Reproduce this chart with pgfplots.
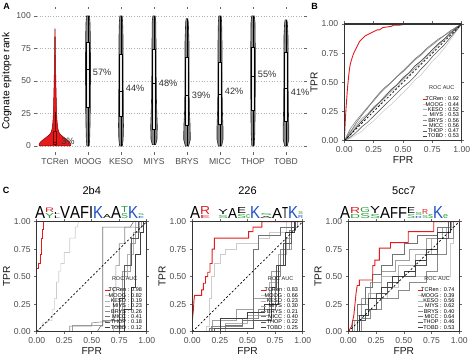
\documentclass[border=0pt]{standalone}
\usepackage{fontspec}
\setmainfont{Liberation Sans}
\usepackage{pgfplots}
\pgfplotsset{compat=1.18}
\usepgfplotslibrary{statistics}
\definecolor{tcr}{RGB}{228,26,28}
\definecolor{axg}{RGB}{77,77,77}
\definecolor{lgr}{RGB}{40,160,60}
\definecolor{lbl}{RGB}{30,80,200}
\definecolor{lrd}{RGB}{220,30,40}
\colorlet{g1}{black!20}
\colorlet{g2}{black!30}
\colorlet{g3}{black!38}
\colorlet{g4}{black!46}
\colorlet{g5}{black!55}
\colorlet{g6}{black!65}
\colorlet{g7}{black!75}
\newcommand\tickf{\fontsize{8.6}{9}\selectfont}
\newcommand\labf{\fontsize{10.2}{11}\selectfont}
\newcommand\legf{\fontsize{5.5}{6}\selectfont}
\newcommand\pctf{\fontsize{9.2}{10}\selectfont}
\newcommand{\lt}[4]{\textcolor{#1}{\resizebox{#3pt}{#4pt}{#2}}}
\newcommand{\stk}[7]{\makebox[#1pt][l]{\lt{#5}{#6}{#1}{#7}\llap{\raisebox{\dimexpr #7pt+1pt\relax}{\lt{#2}{#3}{#1}{#4}}}}}
\newcommand\lgn[2]{\makebox[15.5pt][r]{#1} : #2}
\newcommand{\rocleg}[8]{%
\addlegendimage{tcr,line width=0.9pt}\addlegendentry{\lgn{TCRen}{#1}}
\addlegendimage{g1,line width=0.9pt}\addlegendentry{\lgn{MOOG}{#2}}
\addlegendimage{g2,line width=0.9pt}\addlegendentry{\lgn{KESO}{#3}}
\addlegendimage{g3,line width=0.9pt}\addlegendentry{\lgn{MIYS}{#4}}
\addlegendimage{g4,line width=0.9pt}\addlegendentry{\lgn{BRYS}{#5}}
\addlegendimage{g5,line width=0.9pt}\addlegendentry{\lgn{MICC}{#6}}
\addlegendimage{g6,line width=0.9pt}\addlegendentry{\lgn{THOP}{#7}}
\addlegendimage{g7,line width=0.9pt}\addlegendentry{\lgn{TOBD}{#8}}}
\pgfplotsset{
 /pgf/number format/assume math mode=true,
 myroc/.style={
  scale only axis, height=110pt, xmin=0,xmax=1,ymin=0,ymax=1,
  xtick={0,0.25,0.5,0.75,1}, ytick={0,0.25,0.5,0.75,1},
  xticklabels={0.00,0.25,0.50,0.75,1.00}, yticklabels={0.00,0.25,0.50,0.75,1.00},
  axis on top, axis line style={draw=black!80, line width=1.2pt},
  tick align=outside, major tick length=2.5pt, tick style={draw=black!60, line width=0.5pt},
  ticklabel style={font=\tickf, text=axg},
  xlabel=FPR, ylabel=TPR, label style={font=\labf, text=black!90},
  xlabel style={yshift=3pt}, ylabel style={yshift=-3pt},
  legend style={at={(rel axis cs:0.96,0.012)}, anchor=south east, draw=none, fill=none,
    font=\legf, inner sep=0pt, row sep=0pt,
    nodes={inner sep=0.2pt, text height=4pt, text depth=0.9pt},
    /tikz/every even column/.append style={column sep=0.8pt}},
  legend cell align=left,
  legend image code/.code={\draw[##1] (0pt,0pt) -- (4.5pt,0pt);},
 },
 gl/.style={line width=0.6pt, forget plot},
 diag/.style={black, line width=0.7pt, dash pattern=on 2pt off 2pt, forget plot},
 red/.style={tcr, line width=0.9pt, forget plot},
}
\begin{document}
\begin{tikzpicture}
\path[use as bounding box] (0,0) rectangle (474pt,363pt);
% panel labels
\node[font=\bfseries\fontsize{9}{10}\selectfont] at (6.5pt,356.5pt) {A};
\node[font=\bfseries\fontsize{9}{10}\selectfont] at (314.5pt,356.5pt) {B};
\node[font=\bfseries\fontsize{9}{10}\selectfont] at (6pt,173pt) {C};
% ---------------- Panel A
\begin{axis}[at={(36.85pt,210.5pt)}, anchor=south west, scale only axis,
 width=267.3pt, height=143pt,
 xmin=0.45, xmax=8.55, ymin=-5, ymax=105,
 xtick={1,2,3,4,5,6,7,8}, xticklabels={TCRen,MOOG,KESO,MIYS,BRYS,MICC,THOP,TOBD},
 ytick={0,25,50,75,100}, yticklabels={0,25,50,75,100},
 ymajorgrids, grid style={black!30, line width=0.7pt, dash pattern=on 0.7pt off 2pt},
 axis line style={draw=none}, tick align=outside, major tick length=2.5pt,
 tick style={draw=black!60, line width=0.5pt},
 ticklabel style={font=\tickf, text=axg},
 ylabel={Cognate epitope rank}, ylabel style={font=\labf, yshift=-2pt},
 boxplot/draw direction=y, clip=false]
% violins
\addplot[fill=tcr, draw=red!55!black, line width=0.5pt] coordinates {(0.53,0)(0.52,1)(0.53,2)(0.56,3)(0.60,4)(0.65,5)(0.70,6)(0.75,7)(0.80,8)(0.84,9)(0.87,10)(0.90,12)(0.915,14)(0.93,17)(0.94,20)(0.95,25)(0.955,30)(0.96,35)(0.965,40)(0.97,45)(0.975,50)(0.98,60)(0.985,70)(0.99,80)(0.996,90)(1.004,90)(1.01,80)(1.015,70)(1.02,60)(1.025,50)(1.03,45)(1.035,40)(1.04,35)(1.045,30)(1.05,25)(1.06,20)(1.07,17)(1.085,14)(1.10,12)(1.13,10)(1.16,9)(1.20,8)(1.25,7)(1.30,6)(1.35,5)(1.40,4)(1.44,3)(1.47,2)(1.48,1)(1.47,0)} -- cycle;
\addplot[fill=black!50, draw=black!85, line width=0.6pt] coordinates {(1.965,0)(1.95,5)(1.94,15)(1.93,30)(1.925,50)(1.925,70)(1.93,85)(1.94,95)(1.955,100)(2.045,100)(2.06,95)(2.07,85)(2.075,70)(2.075,50)(2.07,30)(2.06,15)(2.05,5)(2.035,0)} -- cycle;
\addplot[fill=black!50, draw=black!85, line width=0.6pt] coordinates {(2.96,0)(2.935,5)(2.925,15)(2.93,30)(2.935,50)(2.94,70)(2.94,85)(2.95,95)(2.965,100)(3.035,100)(3.05,95)(3.06,85)(3.06,70)(3.065,50)(3.07,30)(3.075,15)(3.065,5)(3.04,0)} -- cycle;
\addplot[fill=black!50, draw=black!85, line width=0.6pt] coordinates {(3.95,1)(3.91,5)(3.90,15)(3.915,25)(3.93,40)(3.935,60)(3.94,80)(3.945,95)(3.965,100)(4.035,100)(4.055,95)(4.06,80)(4.065,60)(4.07,40)(4.085,25)(4.10,15)(4.09,5)(4.05,1)} -- cycle;
\addplot[fill=black!50, draw=black!85, line width=0.6pt] coordinates {(4.95,0)(4.90,5)(4.905,15)(4.925,25)(4.935,40)(4.94,60)(4.94,80)(4.96,95)(4.975,98)(5.025,98)(5.04,95)(5.06,80)(5.06,60)(5.065,40)(5.075,25)(5.095,15)(5.10,5)(5.05,0)} -- cycle;
\addplot[fill=black!50, draw=black!85, line width=0.6pt] coordinates {(5.95,0)(5.91,5)(5.91,15)(5.925,25)(5.935,40)(5.94,60)(5.94,80)(5.95,95)(5.965,100)(6.035,100)(6.05,95)(6.06,80)(6.06,60)(6.065,40)(6.075,25)(6.09,15)(6.09,5)(6.05,0)} -- cycle;
\addplot[fill=black!50, draw=black!85, line width=0.6pt] coordinates {(6.965,0)(6.945,10)(6.935,30)(6.93,50)(6.93,70)(6.935,85)(6.94,95)(6.96,100)(7.04,100)(7.06,95)(7.065,85)(7.07,70)(7.07,50)(7.065,30)(7.055,10)(7.035,0)} -- cycle;
\addplot[fill=black!50, draw=black!85, line width=0.6pt] coordinates {(7.96,0)(7.915,5)(7.915,15)(7.93,30)(7.935,50)(7.935,70)(7.94,85)(7.96,95)(7.975,97)(8.025,97)(8.04,95)(8.06,85)(8.065,70)(8.065,50)(8.07,30)(8.085,15)(8.085,5)(8.04,0)} -- cycle;
% boxes
\pgfplotsset{bx/.style={fill=black!8, draw=black, line width=0.6pt, boxplot/every median/.style={line width=1.1pt}}}
\addplot[bx, boxplot prepared={draw position=1, lower whisker=0, lower quartile=1.5, median=3, upper quartile=11, upper whisker=26, box extend=0.1, whisker extend=0}, fill=tcr, draw=red!40!black] coordinates {};
\addplot[bx, boxplot prepared={draw position=2, lower whisker=0, lower quartile=30, median=59, upper quartile=80, upper whisker=100, box extend=0.1, whisker extend=0}] coordinates {};
\addplot[bx, boxplot prepared={draw position=3, lower whisker=0, lower quartile=23, median=41.6, upper quartile=70.4, upper whisker=100, box extend=0.1, whisker extend=0}] coordinates {};
\addplot[bx, boxplot prepared={draw position=4, lower whisker=1, lower quartile=12.6, median=48, upper quartile=74.5, upper whisker=100, box extend=0.1, whisker extend=0}] coordinates {};
\addplot[bx, boxplot prepared={draw position=5, lower whisker=0, lower quartile=16, median=38.5, upper quartile=68, upper whisker=98, box extend=0.1, whisker extend=0}] coordinates {};
\addplot[bx, boxplot prepared={draw position=6, lower whisker=0, lower quartile=17, median=39.6, upper quartile=64.3, upper whisker=100, box extend=0.1, whisker extend=0}] coordinates {};
\addplot[bx, boxplot prepared={draw position=7, lower whisker=0, lower quartile=27.5, median=53.7, upper quartile=75.6, upper whisker=100, box extend=0.1, whisker extend=0}] coordinates {};
\addplot[bx, boxplot prepared={draw position=8, lower whisker=0, lower quartile=19, median=44, upper quartile=71.7, upper whisker=97, box extend=0.1, whisker extend=0}] coordinates {};
\begin{scope}[every node/.style={anchor=west, font=\pctf, text=black!80, inner sep=0.5pt}]
\node at (axis cs:1.17,3.5) {3\%};
\node at (axis cs:2.13,57) {57\%};
\node at (axis cs:3.13,44) {44\%};
\node at (axis cs:4.13,48) {48\%};
\node at (axis cs:5.13,39) {39\%};
\node at (axis cs:6.13,42) {42\%};
\node at (axis cs:7.13,55) {55\%};
\node at (axis cs:8.13,41) {41\%};
\end{scope}
\end{axis}
% ---------------- Panel B
\begin{axis}[myroc, at={(344.3pt,222.3pt)}, anchor=south west, width=117.4pt, height=116.7pt,
 legend style={at={(rel axis cs:0.98,0.012)}}]
\rocleg{0.92}{0.44}{0.52}{0.53}{0.56}{0.56}{0.47}{0.53}
\addplot[gl,g1] coordinates {(0,0)(0.05,0.02)(0.1,0.05)(0.15,0.08)(0.2,0.13)(0.25,0.17)(0.3,0.22)(0.35,0.27)(0.4,0.31)(0.45,0.36)(0.5,0.41)(0.55,0.46)(0.6,0.52)(0.65,0.56)(0.7,0.62)(0.75,0.68)(0.8,0.73)(0.85,0.79)(0.9,0.86)(0.95,0.93)(1,1)};
\addplot[gl,g2] coordinates {(0,0)(0.05,0.06)(0.1,0.12)(0.15,0.16)(0.2,0.22)(0.25,0.27)(0.3,0.31)(0.35,0.37)(0.4,0.42)(0.45,0.46)(0.5,0.52)(0.55,0.56)(0.6,0.62)(0.65,0.66)(0.7,0.72)(0.75,0.76)(0.8,0.82)(0.85,0.86)(0.9,0.91)(0.95,0.96)(1,1)};
\addplot[gl,g3] coordinates {(0,0)(0.05,0.08)(0.1,0.13)(0.15,0.19)(0.2,0.23)(0.25,0.29)(0.3,0.33)(0.35,0.39)(0.4,0.43)(0.45,0.48)(0.5,0.53)(0.55,0.58)(0.6,0.62)(0.65,0.68)(0.7,0.72)(0.75,0.78)(0.8,0.82)(0.85,0.87)(0.9,0.91)(0.95,0.96)(1,1)};
\addplot[gl,g4] coordinates {(0,0)(0.05,0.1)(0.1,0.17)(0.15,0.23)(0.2,0.29)(0.25,0.34)(0.3,0.4)(0.35,0.45)(0.4,0.5)(0.45,0.55)(0.5,0.59)(0.55,0.64)(0.6,0.69)(0.65,0.73)(0.7,0.78)(0.75,0.82)(0.8,0.86)(0.85,0.9)(0.9,0.93)(0.95,0.97)(1,1)};
\addplot[gl,g5] coordinates {(0,0)(0.05,0.07)(0.1,0.15)(0.15,0.22)(0.2,0.28)(0.25,0.35)(0.3,0.41)(0.35,0.46)(0.4,0.5)(0.45,0.55)(0.5,0.6)(0.55,0.65)(0.6,0.7)(0.65,0.74)(0.7,0.79)(0.75,0.83)(0.8,0.87)(0.85,0.9)(0.9,0.94)(0.95,0.97)(1,1)};
\addplot[gl,g6] coordinates {(0,0)(0.05,0.03)(0.1,0.07)(0.15,0.12)(0.2,0.16)(0.25,0.21)(0.3,0.26)(0.35,0.31)(0.4,0.36)(0.45,0.41)(0.5,0.46)(0.55,0.5)(0.6,0.55)(0.65,0.61)(0.7,0.66)(0.75,0.72)(0.8,0.77)(0.85,0.82)(0.9,0.88)(0.95,0.94)(1,1)};
\addplot[gl,g7] coordinates {(0,0)(0.05,0.05)(0.1,0.11)(0.15,0.17)(0.2,0.22)(0.25,0.28)(0.3,0.33)(0.35,0.38)(0.4,0.44)(0.45,0.48)(0.5,0.54)(0.55,0.58)(0.6,0.64)(0.65,0.68)(0.7,0.73)(0.75,0.78)(0.8,0.83)(0.85,0.87)(0.9,0.92)(0.95,0.96)(1,1)};
\addplot[diag] coordinates {(0,0)(1,1)};
\addplot[red] coordinates {(0,0)(0.005,0.1)(0.01,0.2)(0.015,0.28)(0.02,0.35)(0.025,0.42)(0.03,0.48)(0.035,0.53)(0.04,0.58)(0.045,0.62)(0.05,0.65)(0.06,0.69)(0.07,0.72)(0.08,0.75)(0.09,0.77)(0.1,0.79)(0.11,0.81)(0.12,0.83)(0.13,0.85)(0.14,0.86)(0.15,0.87)(0.16,0.88)(0.18,0.9)(0.2,0.91)(0.22,0.92)(0.24,0.93)(0.26,0.94)(0.28,0.95)(0.3,0.95)(0.33,0.97)(0.37,0.975)(0.4,0.98)(0.42,0.99)(0.47,0.99)(0.5,0.995)(0.55,1)(1,1)};
\node[font=\legf, text=black!85] at (rel axis cs:0.83,0.455) {ROC AUC};
\end{axis}
% ---------------- Panel C titles and logos
\node[font=\fontsize{11}{12}\selectfont] at (91.7pt,172pt) {2b4};
\node[font=\fontsize{11}{12}\selectfont] at (247.5pt,172pt) {226};
\node[font=\fontsize{11}{12}\selectfont] at (403.8pt,172pt) {5cc7};
\node[anchor=base west, inner sep=0pt] at (35pt,144.5pt) {\lt{black}{A}{10}{12}\stk{9}{lrd}{R}{4.5}{lgr}{Y}{5}\stk{6}{black}{L}{2}{black}{L}{2.5}\lt{black}{V}{10}{12}\lt{black}{A}{10}{12}\lt{black}{F}{9}{12}\lt{black}{I}{4}{12}\lt{lbl}{K}{10}{12}\lt{black}{A}{8}{4}\lt{black}{A}{10}{12}\stk{7}{lgr}{T}{6}{lgr}{S}{5}\lt{lbl}{K}{10}{12}\stk{6}{lgr}{S}{2}{lbl}{E}{2}};
\node[anchor=base west, inner sep=0pt] at (190pt,144.5pt) {\lt{black}{A}{10}{12}\stk{10}{lrd}{R}{8}{lrd}{E}{3}\hspace{8pt}\stk{10}{black}{Y}{5}{lgr}{S}{3}\lt{black}{A}{9}{10}\stk{9}{black}{E}{6}{lgr}{S}{4}\lt{lgr}{c}{4}{4}\lt{lbl}{K}{10}{12}\stk{12}{lgr}{S}{2}{black}{A}{2}\lt{black}{A}{10}{10}\lt{black}{T}{6}{11}\lt{lbl}{K}{10}{12}\stk{5}{lgr}{S}{3}{lbl}{R}{3}};
\node[anchor=base west, inner sep=0pt] at (340pt,144.5pt) {\lt{black}{A}{10}{12}\stk{10}{lrd}{R}{6}{lgr}{D}{4}\stk{10}{lgr}{G}{5}{lgr}{S}{5}\stk{10}{black}{Y}{7}{lgr}{S}{4}\lt{black}{A}{10}{11}\lt{black}{F}{8}{11}\lt{black}{F}{9}{11}\stk{8}{black}{E}{6}{lgr}{S}{4}\stk{7}{lgr}{S}{3}{lbl}{R}{2}\stk{6}{lrd}{R}{5}{lgr}{S}{3}\lt{lgr}{s}{5}{4}\lt{lbl}{K}{10}{12}\lt{lgr}{e}{5}{4}};
% ---------------- Panel C1
\begin{axis}[myroc, at={(36.7pt,31.3pt)}, anchor=south west, width=110pt]
\rocleg{0.98}{0.82}{0.19}{0.23}{0.26}{0.41}{0.18}{0.12}
\addplot[gl,g1] coordinates {(0,0)(0.02,0.02)(0.05,0.05)(0.05,0.08)(0.1,0.08)(0.1,0.1)(0.14,0.1)(0.14,0.2)(0.16,0.2)(0.16,0.3)(0.18,0.3)(0.18,0.45)(0.2,0.45)(0.2,0.55)(0.22,0.55)(0.22,0.62)(0.25,0.62)(0.25,0.72)(0.3,0.72)(0.3,0.85)(0.35,0.85)(0.35,0.95)(0.37,0.95)(0.38,1)(1,1)};
\addplot[gl,g2] coordinates {(0,0)(0.7,0)(0.7,0.05)(0.8,0.05)(0.8,0.5)(0.82,0.5)(0.82,0.7)(0.88,0.7)(0.88,0.9)(0.93,0.9)(0.93,1)(1,1)};
\addplot[gl,g3] coordinates {(0,0)(0.32,0)(0.32,0.06)(0.6,0.06)(0.6,0.1)(0.78,0.1)(0.78,0.55)(0.85,0.55)(0.85,0.8)(0.9,0.8)(0.9,0.95)(0.95,0.95)(0.95,1)(1,1)};
\addplot[gl,g4] coordinates {(0,0)(0.3,0)(0.3,0.05)(0.5,0.05)(0.5,0.08)(0.7,0.1)(0.7,0.4)(0.72,0.4)(0.72,0.6)(0.75,0.6)(0.75,0.8)(0.8,0.8)(0.8,0.95)(0.9,0.95)(0.9,1)(1,1)};
\addplot[gl,g5] coordinates {(0,0)(0.55,0)(0.58,0.05)(0.6,0.05)(0.6,0.95)(0.85,0.95)(0.88,1)(1,1)};
\addplot[gl,g6] coordinates {(0,0)(0.75,0)(0.75,0.3)(0.8,0.3)(0.8,0.6)(0.86,0.6)(0.86,0.85)(0.92,0.85)(0.92,1)(1,1)};
\addplot[gl,g7] coordinates {(0,0)(0.8,0)(0.8,0.2)(0.86,0.2)(0.86,0.4)(0.9,0.4)(0.9,0.7)(0.94,0.7)(0.94,0.9)(0.97,0.9)(0.97,1)(1,1)};
\addplot[diag] coordinates {(0,0)(1,1)};
\addplot[red] coordinates {(0,0)(0,0.575)(0.02,0.575)(0.02,0.62)(0.03,0.62)(0.03,0.7)(0.04,0.7)(0.04,0.85)(0.055,0.85)(0.055,0.93)(0.065,0.93)(0.065,1)(1,1)};
\node[font=\legf, text=black!85] at (rel axis cs:0.8,0.485) {ROC AUC};
\end{axis}
% ---------------- Panel C2
\begin{axis}[myroc, at={(192.3pt,31.3pt)}, anchor=south west, width=110.4pt]
\rocleg{0.83}{0.66}{0.23}{0.30}{0.21}{0.40}{0.22}{0.25}
\addplot[gl,g1] coordinates {(0,0)(0.13,0)(0.13,0.05)(0.15,0.05)(0.15,0.3)(0.17,0.3)(0.17,0.5)(0.2,0.5)(0.2,0.62)(0.25,0.62)(0.25,0.7)(0.3,0.7)(0.3,0.75)(0.4,0.75)(0.4,0.8)(0.6,0.8)(0.6,0.85)(0.7,0.85)(0.7,0.9)(0.85,0.9)(0.85,1)(1,1)};
\addplot[gl,g2] coordinates {(0,0)(0.3,0)(0.3,0.08)(0.5,0.08)(0.5,0.15)(0.7,0.15)(0.7,0.45)(0.78,0.45)(0.78,0.7)(0.85,0.7)(0.85,0.85)(0.9,0.85)(0.9,1)(1,1)};
\addplot[gl,g3] coordinates {(0,0)(0.18,0)(0.18,0.1)(0.4,0.1)(0.4,0.2)(0.55,0.2)(0.55,0.3)(0.72,0.3)(0.72,0.55)(0.8,0.55)(0.8,0.75)(0.9,0.75)(0.9,0.95)(0.95,0.95)(0.95,1)(1,1)};
\addplot[gl,g4] coordinates {(0,0)(0.17,0)(0.17,0.05)(0.45,0.05)(0.45,0.12)(0.6,0.12)(0.6,0.2)(0.75,0.2)(0.75,0.5)(0.8,0.5)(0.8,0.75)(0.88,0.75)(0.88,0.92)(0.93,0.92)(0.93,1)(1,1)};
\addplot[gl,g5] coordinates {(0,0)(0.15,0)(0.15,0.03)(0.3,0.03)(0.3,0.06)(0.45,0.06)(0.45,0.1)(0.55,0.1)(0.55,0.75)(0.6,0.75)(0.6,0.88)(0.8,0.88)(0.8,0.95)(0.9,0.95)(0.9,1)(1,1)};
\addplot[gl,g6] coordinates {(0,0)(0.2,0)(0.2,0.03)(0.55,0.03)(0.55,0.1)(0.72,0.1)(0.72,0.4)(0.76,0.4)(0.76,0.6)(0.82,0.6)(0.82,0.8)(0.9,0.8)(0.9,0.95)(0.93,0.95)(0.93,1)(1,1)};
\addplot[gl,g7] coordinates {(0,0)(0.25,0)(0.25,0.12)(0.5,0.12)(0.5,0.18)(0.65,0.18)(0.65,0.25)(0.78,0.25)(0.78,0.6)(0.84,0.6)(0.84,0.9)(0.92,0.9)(0.92,1)(1,1)};
\addplot[diag] coordinates {(0,0)(1,1)};
\addplot[red] coordinates {(0,0)(0,0.1)(0.01,0.2)(0.015,0.28)(0.02,0.33)(0.085,0.33)(0.085,0.38)(0.1,0.38)(0.1,0.44)(0.12,0.44)(0.12,0.5)(0.14,0.5)(0.14,0.54)(0.16,0.54)(0.16,0.62)(0.18,0.62)(0.18,0.75)(0.2,0.75)(0.2,0.85)(0.51,0.85)(0.51,0.91)(0.55,0.91)(0.55,0.95)(0.63,0.95)(0.63,1)(1,1)};
\node[font=\legf, text=black!85] at (rel axis cs:0.8,0.485) {ROC AUC};
\end{axis}
% ---------------- Panel C3
\begin{axis}[myroc, at={(348.3pt,31.3pt)}, anchor=south west, width=111pt]
\rocleg{0.74}{0.39}{0.56}{0.62}{0.40}{0.64}{0.46}{0.53}
\addplot[gl,g1] coordinates {(0,0)(0.1,0)(0.1,0.1)(0.15,0.1)(0.15,0.2)(0.25,0.2)(0.25,0.3)(0.35,0.3)(0.35,0.4)(0.45,0.4)(0.45,0.5)(0.92,0.5)(0.92,0.8)(0.95,0.8)(0.95,1)(1,1)};
\addplot[gl,g2] coordinates {(0,0)(0.05,0)(0.05,0.1)(0.12,0.1)(0.12,0.25)(0.18,0.25)(0.18,0.35)(0.3,0.35)(0.3,0.5)(0.45,0.5)(0.45,0.6)(0.6,0.6)(0.6,0.7)(0.75,0.7)(0.75,0.85)(0.88,0.85)(0.88,0.95)(0.95,0.95)(0.95,1)(1,1)};
\addplot[gl,g3] coordinates {(0,0)(0.08,0)(0.08,0.15)(0.12,0.15)(0.12,0.3)(0.2,0.3)(0.2,0.45)(0.3,0.45)(0.3,0.55)(0.42,0.55)(0.42,0.65)(0.55,0.65)(0.55,0.75)(0.7,0.75)(0.7,0.85)(0.85,0.85)(0.85,0.95)(0.93,0.95)(0.93,1)(1,1)};
\addplot[gl,g4] coordinates {(0,0)(0.12,0)(0.12,0.12)(0.2,0.12)(0.2,0.2)(0.3,0.2)(0.3,0.3)(0.45,0.3)(0.45,0.38)(0.55,0.38)(0.55,0.45)(0.7,0.45)(0.7,0.55)(0.8,0.55)(0.8,0.7)(0.88,0.7)(0.88,0.85)(0.95,0.85)(0.95,1)(1,1)};
\addplot[gl,g5] coordinates {(0,0)(0.04,0)(0.04,0.1)(0.08,0.1)(0.08,0.25)(0.15,0.25)(0.15,0.4)(0.22,0.4)(0.22,0.52)(0.3,0.52)(0.3,0.6)(0.4,0.6)(0.4,0.7)(0.5,0.7)(0.5,0.8)(0.62,0.8)(0.62,0.88)(0.8,0.88)(0.8,0.95)(0.9,0.95)(0.9,1)(1,1)};
\addplot[gl,g6] coordinates {(0,0)(0.08,0)(0.08,0.1)(0.15,0.1)(0.15,0.2)(0.25,0.2)(0.25,0.35)(0.35,0.35)(0.35,0.45)(0.45,0.45)(0.45,0.5)(0.6,0.5)(0.6,0.6)(0.7,0.6)(0.7,0.7)(0.8,0.7)(0.8,0.85)(0.9,0.85)(0.9,1)(1,1)};
\addplot[gl,g7] coordinates {(0,0)(0.1,0)(0.1,0.15)(0.18,0.15)(0.18,0.3)(0.3,0.3)(0.3,0.4)(0.4,0.4)(0.4,0.5)(0.5,0.5)(0.5,0.55)(0.6,0.55)(0.6,0.65)(0.7,0.65)(0.7,0.75)(0.8,0.75)(0.8,0.9)(0.92,0.9)(0.92,1)(1,1)};
\addplot[diag] coordinates {(0,0)(1,1)};
\addplot[red] coordinates {(0,0)(0.03,0.05)(0.05,0.15)(0.06,0.25)(0.07,0.35)(0.08,0.42)(0.1,0.42)(0.1,0.47)(0.22,0.47)(0.22,0.6)(0.24,0.6)(0.24,0.65)(0.28,0.65)(0.28,0.76)(0.38,0.76)(0.38,0.81)(0.54,0.81)(0.54,0.91)(0.77,0.91)(0.77,1)(1,1)};
\node[font=\legf, text=black!85] at (rel axis cs:0.8,0.485) {ROC AUC};
\end{axis}
\end{tikzpicture}
\end{document}
